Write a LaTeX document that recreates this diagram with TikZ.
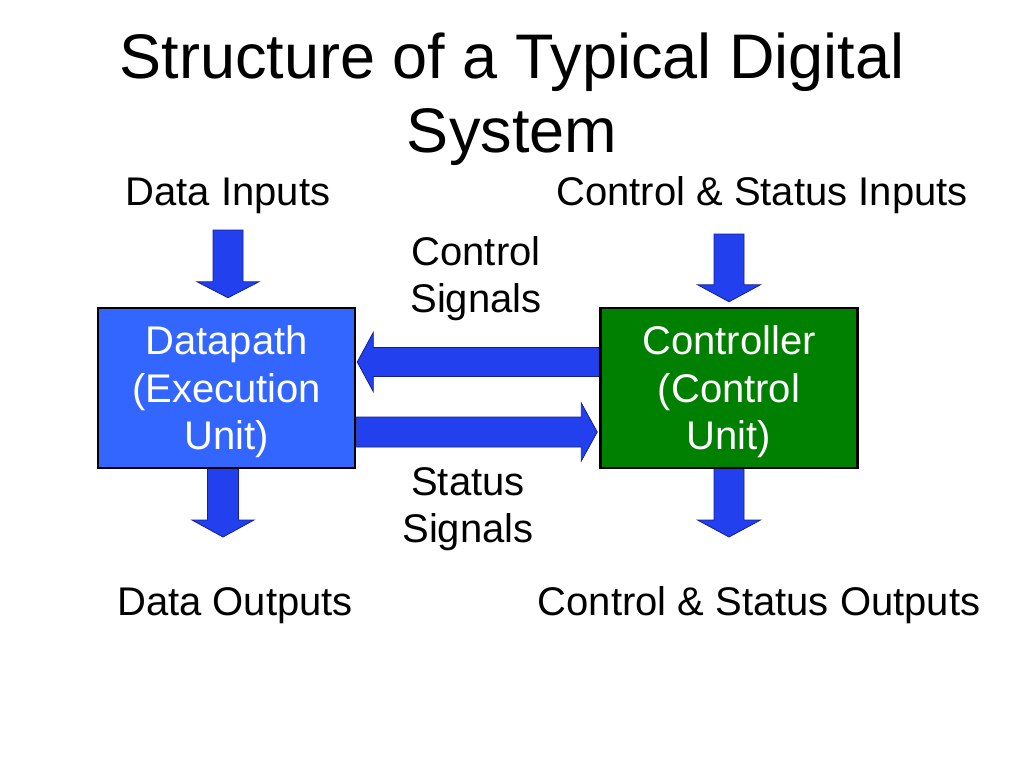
\documentclass[tikz,border=0pt]{standalone}
\usepackage{fontspec}
\setmainfont{Liberation Sans}
\usetikzlibrary{calc,backgrounds}
\definecolor{dpblue}{RGB}{51,102,255}
\definecolor{ctgreen}{RGB}{0,128,0}
\definecolor{arrfill}{RGB}{34,64,238}
\definecolor{arredge}{RGB}{20,30,150}
% #1 start, #2 tip, #3 shaft half width, #4 head half width, #5 head length
\newcommand\blkarrow[5]{%
  \coordinate (ba-h) at ($(#2)!#5!(#1)$);
  \filldraw[blockarr]
    ($(#1)!#3!90:(#2)$) -- ($(ba-h)!#3!90:(#2)$) -- ($(ba-h)!#4!90:(#2)$) --
    (#2) --
    ($(ba-h)!#4!-90:(#2)$) -- ($(ba-h)!#3!-90:(#2)$) -- ($(#1)!#3!-90:(#2)$) -- cycle;
}
\begin{document}
\begin{tikzpicture}[x=1pt,y=-1pt,
  unitbox/.style={draw=black, line width=2.5pt, minimum width=257pt, minimum height=160pt,
    inner sep=0pt, text=white, align=center, font=\fontsize{40}{47.5}\selectfont},
  lbl/.style={font=\fontsize{40}{46.5}\selectfont, inner sep=0pt, align=center},
  ttl/.style={font=\fontsize{63}{74}\selectfont, inner sep=0pt, align=center},
  blockarr/.style={fill=arrfill, draw=arredge, line width=0.8pt, line join=miter}]
\useasboundingbox (0,0) rectangle (1024,768);

% title and labels
\node[ttl] (title) at (512,99) {Structure of a Typical Digital\\System};
\node[lbl, anchor=base] (lin) at (228,205) {Data Inputs};
\node[lbl, anchor=base] (lcin) at (762,205) {Control \& Status Inputs};
\node[lbl] (lcs) at (476,278.6) {Control\\Signals};
\node[lbl] (lss) at (468,509) {Status\\Signals};
\node[lbl, anchor=base] (lout) at (235,615) {Data Outputs};
\node[lbl, anchor=base] (lcout) at (759,615) {Control \& Status Outputs};

% units
\node[unitbox, fill=dpblue] (dp) at (226.5,388) {\rule{0pt}{37pt}Datapath\\(Execution\\Unit)};
\node[unitbox, fill=ctgreen] (ctrl) at (729,388) {\rule{0pt}{37pt}Controller\\(Control\\Unit)};

% free ends and tips
\coordinate (din) at (228,230);
\coordinate (dintip) at ($(dp.north -| din)+(0,-9)$);
\coordinate (dout) at (223,537);
\coordinate (doutst) at (dp.south -| dout);
\coordinate (cin) at (729,234);
\coordinate (cintip) at ($(ctrl.north -| cin)+(0,-5)$);
\coordinate (cout) at (729,537);
\coordinate (coutst) at (ctrl.south -| cout);
\coordinate (csst) at ($(ctrl.west)+(0,-26)$);
\coordinate (cstip) at ($(dp.east)+(1,-26)$);
\coordinate (ssst) at ($(dp.east)+(0,44)$);
\coordinate (sstip) at ($(ctrl.west)+(-2,44)$);

\begin{scope}[on background layer]
  \fill[white] (0,0) rectangle (1024,768);
  \blkarrow{din}{dintip}{15pt}{31pt}{16pt}
  \blkarrow{doutst}{dout}{15.5pt}{31pt}{17pt}
  \blkarrow{cin}{cintip}{15pt}{31.5pt}{17pt}
  \blkarrow{coutst}{cout}{15pt}{31.5pt}{17pt}
  \blkarrow{csst}{cstip}{14.5pt}{29.5pt}{16pt}
  \blkarrow{ssst}{sstip}{15pt}{29pt}{16pt}
\end{scope}
\end{tikzpicture}
\end{document}
